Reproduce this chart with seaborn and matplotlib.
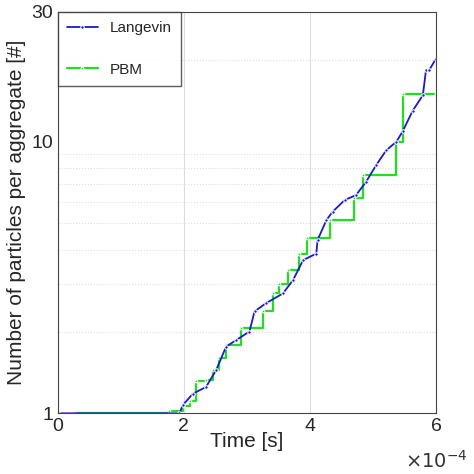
import matplotlib
matplotlib.use("Agg")
import matplotlib.pyplot as plt
import numpy as np
import pandas as pd
import seaborn as sns
from matplotlib.ticker import FixedLocator, NullFormatter

# time in units of 1e-4 s
lang_t = [0.0, 1.93, 1.98, 2.14, 2.35, 2.51, 2.67, 2.83, 3.04, 3.12, 3.30, 3.57, 3.73,
          3.89, 4.10, 4.12, 4.26, 4.36, 4.55, 4.73, 4.89, 5.05, 5.21, 5.37, 5.47,
          5.63, 5.79, 5.84, 5.89, 6.0]
lang_n = [1.0, 1.0, 1.07, 1.18, 1.25, 1.44, 1.76, 1.86, 2.0, 2.37, 2.54, 2.76, 3.09,
          3.66, 3.87, 4.34, 5.14, 5.52, 6.09, 6.35, 7.11, 8.19, 9.29, 9.98, 10.9,
          13.0, 14.8, 18.3, 18.3, 20.2]

pbm_t = [0.26, 1.77, 1.98, 2.09, 2.19, 2.35, 2.46, 2.56, 2.67, 2.91, 3.25, 3.41, 3.51,
         3.65, 3.83, 3.96, 4.31, 4.70, 4.84, 5.37, 5.47, 6.0]
pbm_n = [1.0, 1.02, 1.06, 1.11, 1.31, 1.33, 1.44, 1.60, 1.78, 2.06, 2.37, 2.76, 3.0,
         3.37, 3.87, 4.4, 5.16, 6.21, 7.5, 9.98, 15.0, 15.0]

sns.set_style("white")
plt.rcParams["font.family"] = ["Liberation Sans", "DejaVu Sans"]

fig, ax = plt.subplots(figsize=(4.74, 4.74), dpi=100)
fig.subplots_adjust(left=0.122, right=0.92, top=0.975, bottom=0.128)

df_l = pd.DataFrame({"t": np.array(lang_t) * 1e-4, "n": lang_n})
df_p = pd.DataFrame({"t": np.array(pbm_t) * 1e-4, "n": pbm_n})

sns.lineplot(data=df_p, x="t", y="n", ax=ax, color="#22dd22", lw=1.6,
             drawstyle="steps-post", marker=".", markersize=4, label="PBM")
sns.lineplot(data=df_l, x="t", y="n", ax=ax, color="#1a1acc", lw=1.3,
             marker=".", markersize=5, label="Langevin")

ax.set_yscale("log")
ax.set_xlim(0, 6e-4)
ax.set_ylim(1, 30)
ax.yaxis.set_major_locator(FixedLocator([1, 10, 30]))
ax.yaxis.set_major_formatter(matplotlib.ticker.FixedFormatter(["1", "10", "30"]))
ax.yaxis.set_minor_locator(FixedLocator([2, 3, 4, 5, 6, 7, 8, 9, 20]))
ax.yaxis.set_minor_formatter(NullFormatter())
ax.set_xticks([0, 2e-4, 4e-4, 6e-4])
ax.set_xticklabels(["0", "2", "4", "6"])
ax.tick_params(labelsize=14, length=0, which="both")
ax.grid(True, axis="x", which="major", color="#dddddd", lw=0.8)
ax.grid(True, axis="y", which="minor", color="#dddddd", lw=0.8, ls=":")
ax.set_xlabel("Time [s]", fontsize=15, labelpad=-2)
ax.set_ylabel("Number of particles per aggregate [#]", fontsize=15)
ax.text(1.0, -0.09, r"$\times10^{-4}$", transform=ax.transAxes, fontsize=14,
        ha="center", va="top", color="#333333")
for s in ax.spines.values():
    s.set_color("#444444")

h, l = ax.get_legend_handles_labels()
leg = ax.legend(h[::-1], l[::-1], loc="upper left", fontsize=11, frameon=True,
                fancybox=False, edgecolor="#333333", borderaxespad=0,
                labelspacing=1.8, handlelength=2.0, borderpad=0.6)

plt.savefig("out.png", dpi=100)
